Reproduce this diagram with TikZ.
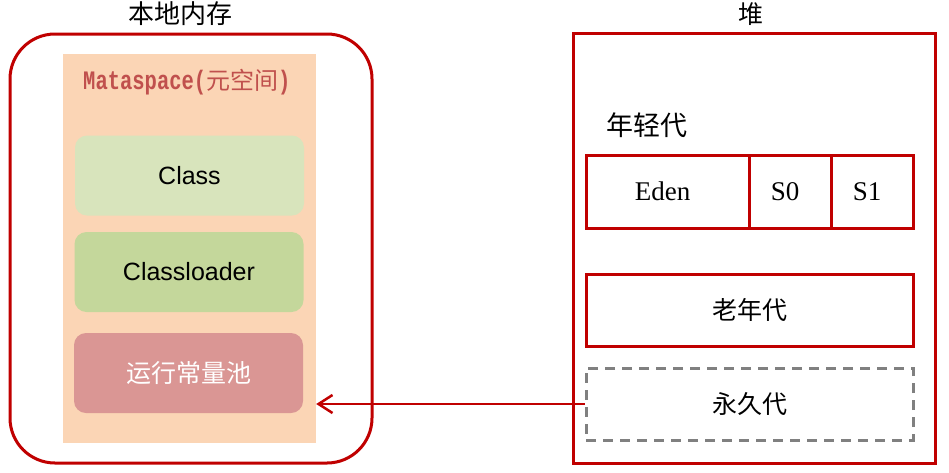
\documentclass[tikz,border=0pt]{standalone}
\usepackage{fontspec}
\setmainfont{Liberation Serif}
\setsansfont{Liberation Sans}
\setmonofont{Liberation Mono}
\newfontfamily\cjk{Noto Sans CJK SC}
\usetikzlibrary{arrows.meta}
\definecolor{dred}{RGB}{192,0,0}
\definecolor{peach}{RGB}{251,213,181}
\definecolor{lgreen}{RGB}{216,228,188}
\definecolor{mgreen}{RGB}{196,215,155}
\definecolor{rosy}{RGB}{218,150,148}
\definecolor{brick}{RGB}{192,80,77}
\definecolor{dgray}{RGB}{128,128,128}
\begin{document}
\begin{tikzpicture}[x=1pt,y=-1pt,
  redbox/.style={draw=dred,line width=3pt,rectangle,inner sep=0pt},
  cellbox/.style={redbox,minimum height=73pt,font=\fontsize{27}{30}\selectfont},
  softbox/.style={rectangle,rounded corners=12pt,inner sep=0pt,minimum width=229pt,minimum height=80pt,font=\sffamily\fontsize{25}{30}\selectfont},
  titletext/.style={inner sep=0pt,font=\cjk\fontsize{26}{30}\selectfont}]
\useasboundingbox (0,0) rectangle (949,472);
% left: native memory
\node[draw=dred,line width=3pt,rounded corners=45pt,minimum width=362pt,minimum height=429pt,inner sep=0pt] (native) at (191,248.5) {};
\node[titletext] (nativetitle) at (180,14) {本地内存};
\node[fill=peach,minimum width=253pt,minimum height=389pt,inner sep=0pt] (peachbg) at (189.5,248.5) {};
\node[anchor=west,inner sep=0pt,text=brick] (meta) at (83,82) {\scalebox{1}[1.3]{\ttfamily\bfseries\fontsize{20.5}{24}\selectfont Mataspace(}{\cjk\fontsize{24}{24}\selectfont 元空间}\scalebox{1}[1.3]{\ttfamily\bfseries\fontsize{20.5}{24}\selectfont)}};
\node[softbox,fill=lgreen] (class) at (189.5,175.5) {Class};
\node[softbox,fill=mgreen] (loader) at (189,272) {Classloader};
\node[softbox,fill=rosy,text=white,font=\cjk\fontsize{25}{30}\selectfont] (pool) at (188.5,373) {运行常量池};
% right: heap
\node[redbox,minimum width=362pt,minimum height=430pt] (heap) at (754,248) {};
\node[titletext,font=\cjk\fontsize{25}{30}\selectfont] (heaptitle) at (751,14) {堆};
\node[anchor=west,inner sep=0pt,font=\cjk\fontsize{27}{30}\selectfont] (young) at (606,125) {年轻代};
\node[cellbox,minimum width=163pt] (eden) at (667.5,191.5) {Eden\kern10pt};
\node[cellbox,minimum width=82pt] (s0) at (790,191.5) {S0\kern10pt};
\node[cellbox,minimum width=82pt] (s1) at (872,191.5) {S1\kern10pt};
\node[redbox,minimum width=327pt,minimum height=72pt,font=\cjk\fontsize{25}{30}\selectfont] (old) at (749.5,310) {老年代};
\node[draw=dgray,line width=3pt,dash pattern=on 10pt off 7pt,rectangle,inner sep=0pt,minimum width=327pt,minimum height=72pt,font=\cjk\fontsize{25}{30}\selectfont] (perm) at (749.5,404) {永久代};
\draw[dred,line width=2.5pt,-{Straight Barb[length=14pt,width=18pt,line width=2.5pt]}] (perm.west) -- (perm.west -| peachbg.east);
\end{tikzpicture}
\end{document}
